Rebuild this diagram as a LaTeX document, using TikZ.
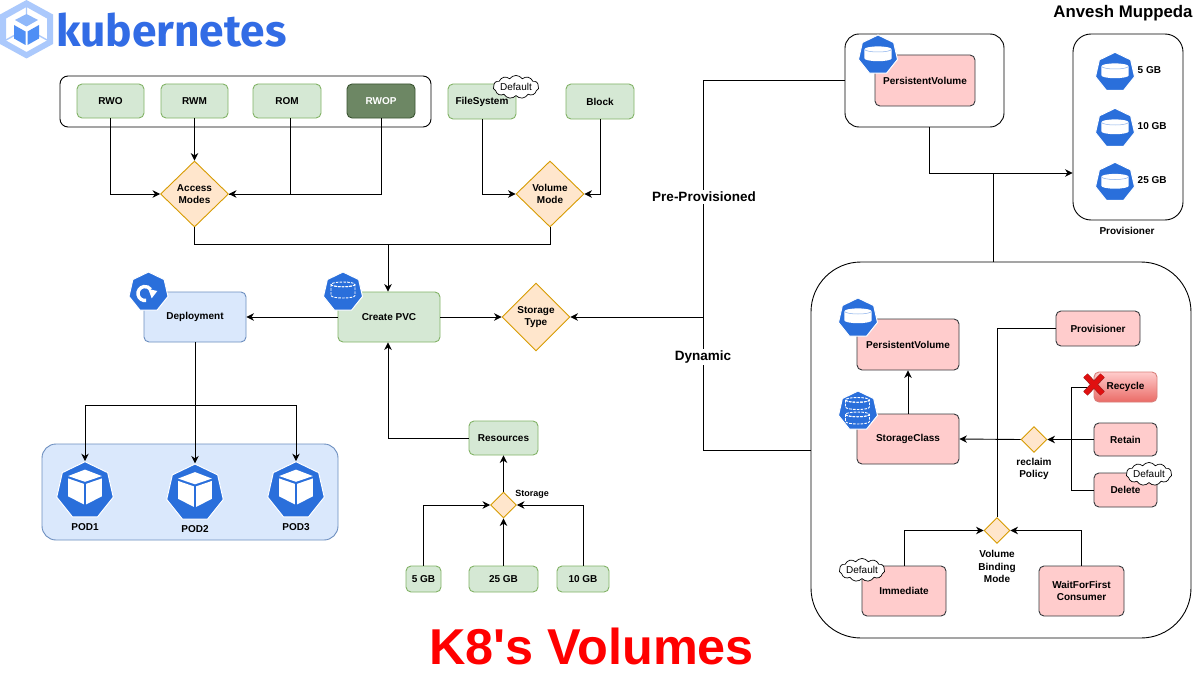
\documentclass[tikz,border=0pt]{standalone}
\usepackage{fontspec}
\setmainfont{Liberation Sans}
\newfontfamily\logofont{Fira Sans}
\usetikzlibrary{shapes.geometric,shapes.symbols,arrows.meta}
\definecolor{kblue}{HTML}{326CE5}
\definecolor{logolight}{HTML}{ABC9FC}
\definecolor{logomid}{HTML}{4F8FF5}
\definecolor{grfill}{HTML}{D5E8D4}
\definecolor{grline}{HTML}{82B366}
\definecolor{dkfill}{HTML}{6D8764}
\definecolor{dkline}{HTML}{3A5431}
\definecolor{blfill}{HTML}{DAE8FC}
\definecolor{blline}{HTML}{6C8EBF}
\definecolor{orfill}{HTML}{FFE6CC}
\definecolor{orline}{HTML}{D79B00}
\definecolor{pkfill}{HTML}{FFCCCC}
\definecolor{pkline}{HTML}{36393D}
\definecolor{iconblue}{HTML}{2A6FDB}
\definecolor{rcbottom}{HTML}{EA6B66}
\definecolor{rcline}{HTML}{D9807C}
\definecolor{crossred}{HTML}{E01010}
\definecolor{crossdark}{HTML}{A02020}
\tikzset{
  every node/.style={font=\fontsize{10}{12.3}\selectfont\bfseries, align=center, inner sep=0pt, text=black},
  base/.style={rounded corners=5pt, line width=0.9pt},
  greenbox/.style={base, draw=grline, fill=grfill},
  darkbox/.style={base, draw=dkline, fill=dkfill, text=white},
  bluebox/.style={base, draw=blline, fill=blfill},
  pinkbox/.style={base, draw=pkline, fill=pkfill},
  recyclebox/.style={rounded corners=5pt, line width=0.9pt, draw=rcline, top color=pkfill, bottom color=rcbottom},
  frame/.style={draw=black, line width=0.9pt, fill=white, rounded corners=8pt},
  choice/.style={shape=diamond, draw=orline, fill=orfill, line width=0.9pt},
  conn/.style={draw=black, line width=0.9pt},
  arr/.style={conn, -{Stealth[length=7.5pt,width=7.5pt,inset=2.4pt]}},
  heptagon/.style={shape=regular polygon, regular polygon sides=7, fill=iconblue, draw=white, line width=1pt},
  note/.style={shape=cloud, cloud puffs=11, cloud puff arc=110, aspect=2.6, draw=black, fill=white, line width=0.7pt, font=\fontsize{10}{12}\selectfont\mdseries, minimum width=44pt, minimum height=19pt},
  bigcaption/.style={font=\fontsize{13.5}{16}\selectfont\bfseries, fill=white, inner sep=2pt},
}
% name, x1, y1, x2, y2, style, text
\newcommand{\bx}[7]{\node[#6, minimum width={(#4-#2)*1pt}, minimum height={(#5-#3)*1pt}] (#1) at ({(#2+#4)/2},{(#3+#5)/2}) {#7};}
% name, x, y, half-diagonal-x, half-diagonal-y, text
\newcommand{\dm}[6]{\node[choice, minimum width={2*#4*1pt}, minimum height={2*#5*1pt}] (#1) at (#2,#3) {#6};}
% name,x,y,r
\newcommand{\hepta}[4]{\node[heptagon, minimum size={2*#4*1pt}] (#1) at (#2,#3) {};}
% disk glyph: x,y,scale
\newcommand{\disk}[3]{\begin{scope}[shift={(#1,#2)},x=#3pt,y=#3pt]
 \fill[white] (-.68,.24) -- (-.68,-.22) arc[start angle=180,end angle=360,x radius=.68,y radius=.14] -- (.68,.24) arc[start angle=0,end angle=180,x radius=.68,y radius=.14] -- cycle;
 \draw[iconblue!55!white,line width=.5pt] (-.68,.24) arc[start angle=180,end angle=360,x radius=.68,y radius=.14];
\end{scope}}
% dashed disk glyph: x,y,scale,half height
\newcommand{\dashdisk}[4]{\begin{scope}[shift={(#1,#2)},x=#3pt,y=#3pt]
 \draw[white,line width=.9pt,dash pattern=on 2.6pt off 1.2pt] (-.6,#4) -- (-.6,-#4) arc[start angle=180,end angle=360,x radius=.6,y radius=.12] -- (.6,#4) arc[start angle=0,end angle=360,x radius=.6,y radius=.12];
 \draw[white,line width=.9pt,dash pattern=on 2.6pt off 1.2pt] (-.6,#4) arc[start angle=180,end angle=360,x radius=.6,y radius=.12];
\end{scope}}
% cube glyph
\newcommand{\cube}[3]{\begin{scope}[shift={(#1,#2)},x=#3pt,y=-#3pt]
 \fill[white] (0,-.67) -- (.65,-.42) -- (0,-.2) -- (-.65,-.42) -- cycle;
 \fill[white] (-.65,-.33) -- (-.04,-.12) -- (-.04,.67) -- (-.65,.36) -- cycle;
 \fill[white] (.65,-.33) -- (.04,-.12) -- (.04,.67) -- (.65,.36) -- cycle;
\end{scope}}
\begin{document}
\begin{tikzpicture}[x=1pt,y=-1pt]
\useasboundingbox (0,0) rectangle (1200,677);
\fill[white] (0,0) rectangle (1200,677);

% ---- logo
\fill[logolight,even odd rule] (26.5,0) -- (53,14.5) -- (53,44) -- (26.5,58.5) -- (0,44) -- (0,14.5) -- cycle
   (26.5,7) -- (47,18.5) -- (47,40.5) -- (26.5,52) -- (6,40.5) -- (6,18.5) -- cycle;
\draw[logolight,line width=1.4pt] (6,40) -- (15,35) (47,40) -- (38,35) (26.5,7) -- (26.5,15);
\fill[logolight!70!logomid] (26.5,14) -- (38,20) -- (26.5,26.5) -- (15,20) -- cycle;
\fill[logomid] (14,25) -- (25.5,31.5) -- (25.5,45) -- (14,38.5) -- cycle;
\fill[logomid] (39,25) -- (27.5,31.5) -- (27.5,45) -- (39,38.5) -- cycle;
\node[anchor=west, font=\logofont\fontsize{44.3}{48}\selectfont\bfseries, text=kblue] (logotext) at (56,30) {kubernetes};

% ---- frames
\bx{modesframe}{60}{76}{431}{127}{frame}{}
\bx{podframe}{42}{444}{338}{540}{bluebox, rounded corners=14pt}{}
\bx{pvframe}{845}{34}{1004}{127}{frame, rounded corners=14pt}{}
\bx{provframe}{1073}{34}{1183}{220}{frame, rounded corners=18pt}{}
\bx{dynframe}{811}{262}{1191}{638}{frame, rounded corners=50pt}{}

% ---- access modes
\bx{rwo}{77}{84}{144}{118}{greenbox}{RWO}
\bx{rwm}{161}{84}{228}{118}{greenbox}{RWM}
\bx{rom}{253}{84}{321}{118}{greenbox}{ROM}
\bx{rwop}{347}{84}{415}{118}{darkbox}{RWOP}
\bx{fs}{448}{84}{516}{119}{greenbox}{FileSystem}
\bx{block}{566}{84}{634}{119}{greenbox}{Block}
\dm{access}{194.5}{194}{34}{33}{Access\\Modes}
\dm{vmode}{550}{194}{34}{33}{Volume\\Mode}
\coordinate (merge) at (388,244);
\coordinate (romdrop) at (290.5,118);

\draw[arr] (rwo.south) |- (access.west);
\draw[arr] (rwm.south) -- (access.north);
\draw[conn] (romdrop) |- (access.east);
\draw[arr] (rwop.south) |- (access.east);
\draw[arr] (fs.south) |- (vmode.west);
\draw[arr] (block.south) |- (vmode.east);

% ---- centre
\bx{pvc}{338}{292}{440}{342}{greenbox}{Create PVC}
\bx{deploy}{144}{292}{246}{342}{bluebox}{Deployment}
\dm{stype}{536}{317}{34}{34}{Storage\\Type}
\draw[conn] (access.south) |- (vmode.south |- merge) -- (vmode.south);
\draw[arr] (merge) -- (merge |- pvc.north);
\draw[arr] (pvc.west) -- (deploy.east);
\draw[arr] (pvc.east) -- (stype.west);

% ---- pods
\hepta{ipod1}{85}{490.7}{29}\cube{85}{487}{26}
\hepta{ipod2}{195}{493}{29}\cube{195}{489.5}{26}
\hepta{ipod3}{296}{490.7}{29}\cube{296}{487}{26}
\node (pod1) at (85,527) {POD1};
\node (pod2) at (195,529) {POD2};
\node (pod3) at (296,527) {POD3};
\coordinate (podsplit) at (195,405.5);
\draw[conn] (deploy.south) -- (podsplit);
\draw[arr] (podsplit) -- (ipod2.north);
\draw[arr] (podsplit) -| (ipod1.north);
\draw[arr] (podsplit) -| (ipod3.north);

% ---- icons on boxes
\hepta{ideploy}{148.5}{292}{20}
\draw[white,line width=3.4pt] (146.2,300.4) arc[start angle=80,end angle=325,radius=7];
\fill[white] (148.3,289) -- (157.3,291) -- (151.7,298.3) -- cycle;
\hepta{ipvc}{343}{292}{20}\dashdisk{343}{290}{20}{.28}

% ---- resources
\bx{res}{469}{421}{538}{455}{greenbox}{Resources}
\dm{stor}{503.5}{505}{13}{13}{}
\node[font=\fontsize{9}{11}\selectfont\bfseries] (storlabel) at (532,494) {Storage};
\bx{g5}{406}{566}{441}{592}{greenbox}{5 GB}
\bx{g25}{469}{566}{538}{592}{greenbox}{25 GB}
\bx{g10}{557}{566}{609}{592}{greenbox}{10 GB}
\draw[arr] (stor.north) -- (res.south);
\draw[arr] (g5.north) |- (stor.west);
\draw[arr] (g25.north) -- (stor.south);
\draw[arr] (g10.north) |- (stor.east);
\draw[arr] (res.west) -| (merge |- pvc.south);

% ---- pre-provisioned / dynamic rail
\coordinate (rail) at (703,317);
\coordinate (railtop) at (703,80);
\coordinate (railbot) at (703,450);
\draw[arr] (rail) -- (stype.east);
\draw[conn] (pvframe.west |- railtop) -- (railtop) -- (railbot) -- (dynframe.west |- railbot);
\node[bigcaption] (prelabel) at (704,197) {Pre-Provisioned};
\node[bigcaption] (dynlabel) at (703,357) {Dynamic};

% ---- static PV
\bx{pv1}{875}{55}{975}{106}{pinkbox}{PersistentVolume}
\hepta{ipv1}{878}{55}{20}\disk{878}{54}{20}
\coordinate (pvdrop) at (929.5,127);
\coordinate (pvturn) at (993,173);
\draw[arr] (pvdrop) |- (provframe.west |- pvturn);
\draw[conn] (pvturn) -- (pvturn |- dynframe.north);

% ---- provisioner
\hepta{i5}{1115}{72.3}{20}\disk{1115}{71}{20}
\hepta{i10}{1115}{128.3}{20}\disk{1115}{127}{20}
\hepta{i25}{1115}{182.3}{20}\disk{1115}{181.5}{20}
\node[anchor=west] (l5) at (1137.5,70.5) {5 GB};
\node[anchor=west] (l10) at (1137.5,126) {10 GB};
\node[anchor=west] (l25) at (1137.5,180.5) {25 GB};
\node (provcaption) at (1127,231) {Provisioner};
\node[font=\fontsize{16.8}{20}\selectfont\bfseries] (author) at (1123,13) {Anvesh Muppeda};

% ---- dynamic
\bx{pv2}{857}{319}{959}{370}{pinkbox}{PersistentVolume}
\bx{sc}{857}{414}{959}{464}{pinkbox}{StorageClass}
\hepta{ipv2}{858}{318}{20}\disk{858}{316}{20}
\hepta{isc}{858}{411}{20}
\dashdisk{857.5}{403.5}{20}{.18}\dashdisk{857.5}{418}{20}{.18}
\bx{prov}{1056}{311}{1140}{346}{pinkbox}{Provisioner}
\bx{recycle}{1094}{372}{1157}{402}{recyclebox}{Recycle}
\bx{retain}{1094}{423}{1157}{456}{pinkbox}{Retain}
\bx{del}{1094}{473}{1157}{507}{pinkbox}{Delete}
\dm{reclaim}{1034}{439.5}{13}{13}{}
\node (reclaimlabel) at (1034,469) {reclaim\\Policy};
\dm{binding}{997}{530.5}{13}{13}{}
\node (bindinglabel) at (997,566.5) {Volume\\Binding\\Mode};
\bx{imm}{862}{566}{946}{616}{pinkbox}{Immediate}
\bx{wait}{1039}{566}{1124}{616}{pinkbox}{WaitForFirst\\Consumer}

\draw[arr] (sc.north) -- (pv2.south);
\draw[arr] (retain.west) -- (reclaim.east);
\draw[arr] (reclaim.west) -- (sc.east);
\draw[conn] (recycle.west) -- (1071,387) -- (1071,490) -- (del.west);
\draw[conn] (prov.west) -| (binding.north);
\draw[arr] (imm.north) |- (binding.west);
\draw[arr] (wait.north) |- (binding.east);

% ---- cross on Recycle
\draw[draw=crossdark,line width=6pt] (1085.5,375.5) -- (1102.5,393.5) (1102.5,375.5) -- (1085.5,393.5);
\draw[draw=crossred,line width=4.6pt] (1085.5,375.5) -- (1102.5,393.5) (1102.5,375.5) -- (1085.5,393.5);

% ---- default notes
\node[note] (nfs) at (516,87) {Default};
\node[note] (ndel) at (1149,474) {Default};
\node[note] (nimm) at (862,570) {Default};

% ---- title
\node[font=\fontsize{50.4}{54}\selectfont\bfseries, text=red] (title) at (591.5,646) {K8\textquotesingle s Volumes};
\end{tikzpicture}
\end{document}
